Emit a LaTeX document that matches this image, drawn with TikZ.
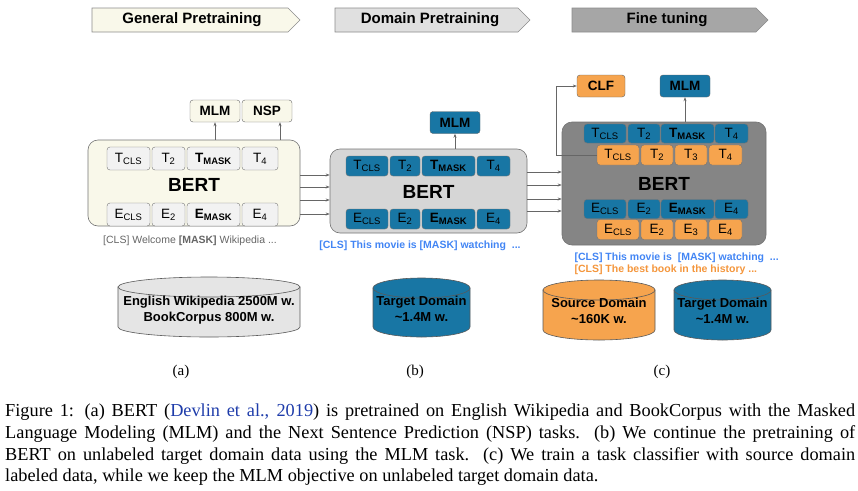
\documentclass[tikz,border=0pt]{standalone}
\usepackage{fontspec}
\setmainfont{Liberation Sans}
\newfontfamily\capfont{Liberation Serif}
\usetikzlibrary{arrows.meta}
\definecolor{tokblue}{RGB}{24,118,164}
\definecolor{tokorange}{RGB}{246,164,78}
\definecolor{txtblue}{RGB}{66,133,244}
\definecolor{txtorange}{RGB}{244,150,60}
\definecolor{cream}{RGB}{249,248,234}
\definecolor{refblue}{RGB}{30,60,170}
\newcommand\cyl[6]{% cx, y1, y2, rx, ry, fill
  \filldraw[draw=black!65,fill=#6,line width=0.6pt]
    (#1pt-#4pt,#2+#5) -- (#1pt-#4pt,#3-#5)
    arc[start angle=180,end angle=360,x radius=#4pt,y radius=#5pt]
    -- (#1pt+#4pt,#2+#5) -- cycle;
  \draw[black!65,line width=0.6pt,fill=#6] (#1,#2+#5) ellipse[x radius=#4pt,y radius=#5pt];}
\begin{document}
\begin{tikzpicture}[x=1pt,y=-1pt,
  bert/.style={draw=black!55,rounded corners=10pt,line width=0.6pt},
  tok/.style={draw=black!55,rounded corners=3pt,inner sep=0pt,font=\fontsize{13.5}{14}\selectfont},
  head/.style={draw=black!60,rounded corners=3pt,inner sep=0pt,minimum height=22pt,font=\fontsize{13.5}{14}\selectfont\bfseries},
  arr/.style={-{Stealth[length=4pt,width=3pt]},black!60,line width=0.6pt},
  banner/.style={draw=black!45,line width=0.6pt},
  btxt/.style={font=\fontsize{15}{16}\selectfont\bfseries},
  bigt/.style={font=\fontsize{19}{20}\selectfont\bfseries},
  cyltxt/.style={font=\fontsize{13}{16}\selectfont\bfseries,align=center},
  sub/.style={font=\fontsize{15}{16}\selectfont}]
\useasboundingbox (0,0) rectangle (858,490);

% banners
\filldraw[banner,fill=cream] (92,8) -- (288,8) -- (300,20) -- (288,32) -- (92,32) -- cycle;
\node[btxt] (ba) at (192,20) {General Pretraining};
\filldraw[banner,fill=black!12] (335,8) -- (518,8) -- (530,20) -- (518,32) -- (335,32) -- cycle;
\node[btxt] (bb) at (430,20) {Domain Pretraining};
\filldraw[banner,fill=black!35] (572,8) -- (756,8) -- (768,20) -- (756,32) -- (572,32) -- cycle;
\node[btxt] (bc) at (667,20) {Fine tuning};

% panel (a)
\node[bert,fill=cream,minimum width=212pt,minimum height=86pt] (bertA) at (194,183) {};
\node[bigt] (la) at (194,185) {BERT};
\foreach \n/\x/\w/\l in {tcls/128.5/43/T\textsubscript{CLS},t2/168.5/33/T\textsubscript{2},tmask/213.5/53/\textbf{T\textsubscript{MASK}},t4/260/36/T\textsubscript{4}}{
  \node[tok,fill=black!5,minimum width=\w pt,minimum height=23pt] (a\n) at (\x,158.5) {\l};}
\foreach \n/\x/\w/\l in {ecls/128.5/43/E\textsubscript{CLS},e2/168.5/33/E\textsubscript{2},emask/213.5/53/\textbf{E\textsubscript{MASK}},e4/260/36/E\textsubscript{4}}{
  \node[tok,fill=black!5,minimum width=\w pt,minimum height=23pt] (a\n) at (\x,214.5) {\l};}
\node[head,fill=cream,minimum width=50pt] (mlmA) at (215,111) {MLM};
\node[head,fill=cream,minimum width=50pt] (nspA) at (267,111) {NSP};
\draw[arr] (bertA.north -| mlmA.south) -- (mlmA.south);
\coordinate (nspfoot) at (280,140);
\draw[arr] (nspfoot) -- (nspfoot |- nspA.south);
\node[font=\fontsize{10.5}{12}\selectfont,text=black!60] (capA) at (190,241) {[CLS] Welcome \textbf{[MASK]} Wikipedia ...};

% panel (b)
\node[bert,fill=black!16,minimum width=197pt,minimum height=84pt] (bertB) at (428.5,191) {};
\node[bigt] (lb) at (428.5,192) {BERT};
\foreach \n/\x/\w/\l in {tcls/367/42/T\textsubscript{CLS},t2/405/30/T\textsubscript{2},tmask/448.5/53/\textbf{T\textsubscript{MASK}},t4/493.5/33/T\textsubscript{4}}{
  \node[tok,fill=tokblue,minimum width=\w pt,minimum height=20pt] (b\n) at (\x,166) {\l};}
\foreach \n/\x/\w/\l in {ecls/367/42/E\textsubscript{CLS},e2/405/30/E\textsubscript{2},emask/448.5/53/\textbf{E\textsubscript{MASK}},e4/493.5/33/E\textsubscript{4}}{
  \node[tok,fill=tokblue,minimum width=\w pt,minimum height=20pt] (b\n) at (\x,219) {\l};}
\node[head,fill=tokblue,minimum width=50pt] (mlmB) at (455,122.5) {MLM};
\draw[arr] (bertB.north -| mlmB.south) -- (mlmB.south);
\node[font=\fontsize{10.5}{12}\selectfont\bfseries,text=txtblue] (capB) at (420,246) {[CLS] This movie is [MASK] watching\ \ ...};

% panel (c)
\node[bert,fill=black!48,minimum width=204pt,minimum height=123pt] (bertC) at (664,183.5) {};
\node[bigt] (lc) at (664,184) {BERT};
\foreach \n/\x/\w/\l in {tcls/605/42/T\textsubscript{CLS},t2/644/32/T\textsubscript{2},tmask/687.5/53/\textbf{T\textsubscript{MASK}},t4/731.5/33/T\textsubscript{4}}{
  \node[tok,fill=tokblue,minimum width=\w pt,minimum height=19pt] (cb\n) at (\x,133.5) {\l};}
\foreach \n/\x/\w/\l in {tcls/618/42/T\textsubscript{CLS},t2/657/32/T\textsubscript{2},t3/691/32/T\textsubscript{3},t4/725.5/33/T\textsubscript{4}}{
  \node[tok,fill=tokorange,minimum width=\w pt,minimum height=20pt] (co\n) at (\x,155) {\l};}
\foreach \n/\x/\w/\l in {ecls/605/42/E\textsubscript{CLS},e2/644/32/E\textsubscript{2},emask/687.5/53/\textbf{E\textsubscript{MASK}},e4/731.5/33/E\textsubscript{4}}{
  \node[tok,fill=tokblue,minimum width=\w pt,minimum height=19pt] (cb\n) at (\x,209) {\l};}
\foreach \n/\x/\w/\l in {ecls/618/42/E\textsubscript{CLS},e2/657/32/E\textsubscript{2},e3/691/32/E\textsubscript{3},e4/725.5/33/E\textsubscript{4}}{
  \node[tok,fill=tokorange,minimum width=\w pt,minimum height=20pt] (co\n) at (\x,229.5) {\l};}
\node[head,fill=tokorange,minimum width=48pt] (clf) at (601,86) {CLF};
\node[head,fill=tokblue,minimum width=50pt] (mlmC) at (685,86) {MLM};
\draw[arr] (bertC.north -| mlmC.south) -- (mlmC.south);
\draw[arr] (cotcls.west) -- ++(-41,0) |- (clf.west);
\node[font=\fontsize{10.5}{12}\selectfont\bfseries,text=txtblue,anchor=west] (capC1) at (571,258) {[CLS] This movie is\ \ [MASK] watching\ \ ...};
\node[font=\fontsize{10.5}{12}\selectfont\bfseries,text=txtorange,anchor=west] (capC2) at (571,270) {[CLS] The best book in the history ...};

% arrows between panels
\foreach \y in {175,187,200,214}{\draw[arr] (bertA.east |- 0,\y) -- (bertB.west |- 0,\y);}
\foreach \y in {172,185,199,211}{\draw[arr] (bertB.east |- 0,\y) -- (bertC.west |- 0,\y);}

% corpora
\cyl{209}{277}{337}{91}{10}{black!10}
\node[cyltxt] (corpA) at (209,310) {English Wikipedia 2500M w.\\BookCorpus 800M w.};
\cyl{421.5}{278}{337}{48.5}{10}{tokblue}
\node[cyltxt] (corpB) at (421.5,309) {Target Domain\\\textasciitilde1.4M w.};
\cyl{599}{280}{340}{56}{10}{tokorange}
\node[cyltxt] (corpC1) at (599,311) {Source Domain\\\textasciitilde160K w.};
\cyl{722.5}{280}{340}{48.5}{10}{tokblue}
\node[cyltxt] (corpC2) at (722.5,311) {Target Domain\\\textasciitilde1.4M w.};

% sub labels
\node[sub] (sa) at (181,372) {\capfont (a)};
\node[sub] (sb) at (415,372) {\capfont (b)};
\node[sub] (sc) at (662,372) {\capfont (c)};

% figure caption
\begin{scope}[every node/.style={anchor=base west,inner sep=0pt,font=\capfont\fontsize{18.3}{20}\selectfont}]
\node (l1) at (5,416) {\makebox[850pt][s]{Figure 1: (a) BERT (\textcolor{refblue}{Devlin et al., 2019}) is pretrained on English Wikipedia and BookCorpus with the Masked}};
\node (l2) at (5,438) {\makebox[850pt][s]{Language Modeling (MLM) and the Next Sentence Prediction (NSP) tasks.\ \ (b) We continue the pretraining of}};
\node (l3) at (5,460) {\makebox[850pt][s]{BERT on unlabeled target domain data using the MLM task.\ \ (c) We train a task classifier with source domain}};
\node (l4) at (5,481) {labeled data, while we keep the MLM objective on unlabeled target domain data.};
\end{scope}
\end{tikzpicture}
\end{document}
